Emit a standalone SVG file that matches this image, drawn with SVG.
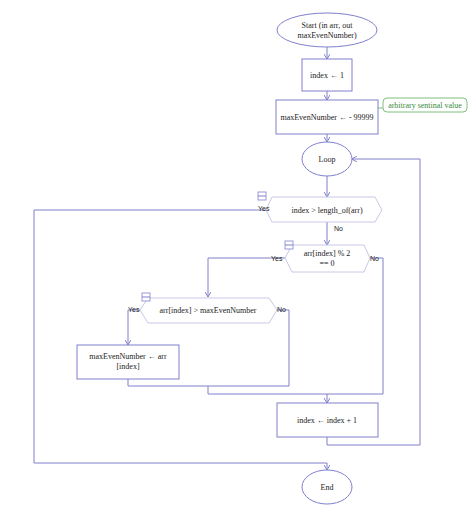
<svg xmlns="http://www.w3.org/2000/svg" width="474" height="510" viewBox="0 0 474 510">
<style>
.s{fill:#fff;stroke:#8080cc;stroke-width:1}
.d{fill:#fff;stroke:#c8c8e8;stroke-width:1}
.t{font-family:"Liberation Serif",serif;font-size:8px;fill:#222;text-anchor:middle}
.l{font-family:"Liberation Sans",sans-serif;font-size:7px;fill:#222}
.c{fill:none;stroke:#8080cc;stroke-width:1}
.ic{fill:#fff;stroke:#8080cc;stroke-width:0.8}
</style>
<defs><marker id="a" markerWidth="6" markerHeight="6" refX="5" refY="3" orient="auto"><path d="M0,0 L5,3 L0,6" fill="none" stroke="#8080cc"/></marker></defs>
<g id="connectors">
<path class="c" d="M327,47 V59" marker-end="url(#a)"/>
<path class="c" d="M327,91 V100" marker-end="url(#a)"/>
<path class="c" d="M327,134 V142" marker-end="url(#a)"/>
<path class="c" d="M327,176 V197" marker-end="url(#a)"/>
<path class="c" d="M327,222 V245" marker-end="url(#a)"/>
<path class="c" d="M285,258 H208 V297" marker-end="url(#a)"/>
<path class="c" d="M370,258 H383 V394"/>
<path class="c" d="M140,310 H128 V345" marker-end="url(#a)"/>
<path class="c" d="M277,310 H289 V386"/>
<path class="c" d="M128,379 V386 H289"/>
<path class="c" d="M208,386 V394 H383"/>
<path class="c" d="M327,394 V403" marker-end="url(#a)"/>
<path class="c" d="M327,437 V445 H420 V159 H352" marker-end="url(#a)"/>
<path class="c" d="M266,210 H34 V463 H327 V470" marker-end="url(#a)"/>
<path d="M378,108 H383" stroke="#7fbf7f" fill="none"/>
</g>
<g id="start"><ellipse class="s" cx="327" cy="30" rx="50" ry="17"/><text class="t" x="327" y="28">Start (in arr, out</text><text class="t" x="327" y="38">maxEvenNumber)</text></g>
<g id="init1"><rect class="s" x="302" y="59" width="50" height="32"/><text class="t" x="327" y="78">index ← 1</text></g>
<g id="init2"><rect class="s" x="276" y="100" width="102" height="34"/><text class="t" x="327" y="120">maxEvenNumber ← - 99999</text></g>
<g id="comment"><rect x="383" y="98" width="84" height="14" rx="4" fill="#fff" stroke="#7fbf7f"/><text x="425" y="108" font-family="Liberation Serif,serif" font-size="8" fill="#3a8a3a" text-anchor="middle">arbitrary sentinal value</text></g>
<g id="loop"><ellipse class="s" cx="327" cy="159" rx="25" ry="17"/><text class="t" x="327" y="162">Loop</text></g>
<g id="dec1"><path class="d" d="M272,197 H375 L382,210 L375,222 H272 L266,210 Z"/><text class="t" x="327" y="213">index &gt; length_of(arr)</text><rect class="ic" x="258" y="192" width="8" height="8"/><path class="c" d="M258,196 H266"/><text class="l" x="258" y="211">Yes</text><text class="l" x="334" y="231">No</text></g>
<g id="dec2"><path class="d" d="M292,245 H364 L370,258 L364,272 H292 L285,258 Z"/><text class="t" x="327" y="256">arr[index] % 2</text><text class="t" x="327" y="266">== 0</text><rect class="ic" x="285" y="241" width="8" height="8"/><path class="c" d="M285,245 H293"/><text class="l" x="271" y="261">Yes</text><text class="l" x="370" y="261">No</text></g>
<g id="dec3"><path class="d" d="M148,298 H269 L277,310 L269,323 H148 L140,310 Z"/><text class="t" x="208" y="313">arr[index] &gt; maxEvenNumber</text><rect class="ic" x="142" y="293" width="8" height="8"/><path class="c" d="M142,297 H150"/><text class="l" x="128" y="312">Yes</text><text class="l" x="277" y="312">No</text></g>
<g id="assign"><rect class="s" x="77" y="345" width="102" height="34"/><text class="t" x="128" y="359">maxEvenNumber ← arr</text><text class="t" x="128" y="369">[index]</text></g>
<g id="incr"><rect class="s" x="277" y="403" width="101" height="34"/><text class="t" x="327" y="423">index ← index  + 1</text></g>
<g id="end"><ellipse class="s" cx="327" cy="487" rx="25" ry="17"/><text class="t" x="327" y="490">End</text></g>
</svg>
